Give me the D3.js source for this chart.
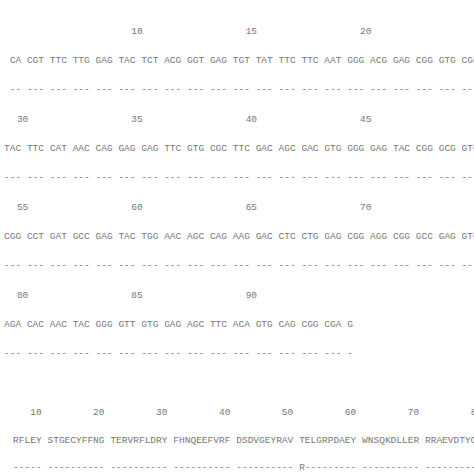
<!DOCTYPE html>
<html><head><meta charset="utf-8">
<script src="https://cdn.jsdelivr.net/npm/d3@7"></script>
<style>body{margin:0;background:#fff}text{font-family:"Liberation Mono",monospace;font-size:9.5px;fill:#777}</style>
</head><body><svg width="474" height="474"></svg>
<script>
// codon rows (first codon of row 1 is partial)
var codonRows = [
  "CA CGT TTC TTG GAG TAC TCT ACG GGT GAG TGT TAT TTC TTC AAT GGG ACG GAG CGG GTG CGG",
  "TAC TTC CAT AAC CAG GAG GAG TTC GTG CGC TTC GAC AGC GAC GTG GGG GAG TAC CGG GCG GTG",
  "CGG CCT GAT GCC GAG TAC TGG AAC AGC CAG AAG GAC CTC CTG GAG CGG AGG CGG GCC GAG GTG",
  "AGA CAC AAC TAC GGG GTT GTG GAG AGC TTC ACA GTG CAG CGG CGA G"
];
var codonNumbers = [[10, 15, 20, 25], [30, 35, 40, 45, 50], [55, 60, 65, 70, 75], [80, 85, 90]];
var numberFirst = [5, 30, 55, 80];   // number at codon index 0 of each row
var proteinSegs = ["RFLEY", "STGECYFFNG", "TERVRFLDRY", "FHNQEEFVRF", "DSDVGEYRAV",
  "TELGRPDAEY", "WNSQKDLLER", "RRAEVDTYCR"];
var proteinNumbers = [10, 20, 30, 40, 50, 60, 70, 80];
var proteinMarks = {5: "R"};  // segment index -> first char shown in dash line

var svg = d3.select("svg");
var cw = 5.72;
var x = d3.scaleLinear().domain([0, 1]).range([4, 4 + 4 * cw]);
var rowY = d3.scaleLinear().domain([0, 1]).range([34, 122]);

codonRows.forEach(function(row, r) {
  var codons = row.split(" ");
  var y0 = rowY(r);
  var g = svg.append("g");
  g.selectAll(".num").data(codonNumbers[r]).enter().append("text")
    .attr("x", function(d) { return x((d - numberFirst[r])) + 10 + 1.5 * cw; })
    .attr("y", y0).attr("text-anchor", "middle").text(function(d) { return d; });
  g.selectAll(".cod").data(codons).enter().append("text")
    .attr("x", function(d, i) { return x(i) + (3 - d.length) * cw * (r == 0 && i == 0 ? 1 : 0); })
    .attr("y", y0 + 29).text(function(d) { return d; });
  g.selectAll(".dash").data(codons).enter().append("text")
    .attr("x", function(d, i) { return x(i) + (3 - d.length) * cw * (r == 0 && i == 0 ? 1 : 0); })
    .attr("y", y0 + 58).text(function(d) { return d.replace(/./g, "-"); });
});

var px = d3.scaleLinear().domain([0, 1]).range([13 + 5 * cw, 13 + 16 * cw]);
function segEnd(i) { return i == 0 ? 13 + 5 * cw : px(i - 1) + 11 * cw; }
svg.selectAll(".pnum").data(proteinNumbers).enter().append("text")
  .attr("x", function(d, i) { return segEnd(i); }).attr("y", 415)
  .attr("text-anchor", "end").text(function(d) { return d; });
svg.selectAll(".pseq").data(proteinSegs).enter().append("text")
  .attr("x", function(d, i) { return segEnd(i); }).attr("y", 443)
  .attr("text-anchor", "end").text(function(d) { return d; });
svg.selectAll(".pdash").data(proteinSegs).enter().append("text")
  .attr("x", function(d, i) { return segEnd(i); }).attr("y", 470)
  .attr("text-anchor", "end")
  .text(function(d, i) { var s = d.replace(/./g, "-"); return proteinMarks[i] ? proteinMarks[i] + s.slice(1) : s; });
</script></body></html>
